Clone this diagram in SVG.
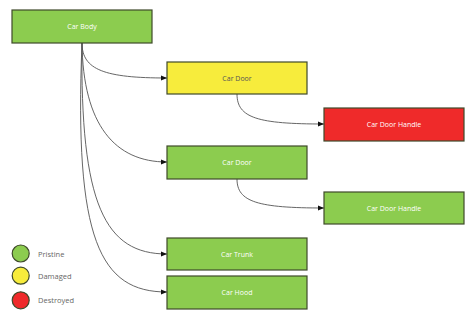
<svg xmlns="http://www.w3.org/2000/svg" width="474" height="322" viewBox="0 0 474 322">
<defs>
<style>
.box{stroke:#3f4a2a;stroke-width:1.2}
.g{fill:#8ccc4f}
.y{fill:#f7ec3c}
.r{fill:#ef2a2a}
.lbl{font-family:"Open Sans","DejaVu Sans",sans-serif;font-size:7px;text-anchor:middle;dominant-baseline:central}
.w{fill:#ffffff}
.d{fill:#555555}
.leg{font-family:"Open Sans","DejaVu Sans",sans-serif;font-size:7.5px;fill:#666666;dominant-baseline:central}
.c{fill:none;stroke:#555555;stroke-width:0.9}
</style>
<marker id="ah" viewBox="0 0 10 10" refX="10" refY="5" markerWidth="6" markerHeight="6" markerUnits="userSpaceOnUse" orient="auto">
<path d="M0,1 L10,5 L0,9 Z" fill="#111111"/>
</marker>
</defs>
<rect width="474" height="322" fill="#ffffff"/>
<g id="connectors">
<path class="c" marker-end="url(#ah)" d="M82,43 C82,70 105,78 167,78"/>
<path class="c" marker-end="url(#ah)" d="M82,43 C83,125 115,162 167,162"/>
<path class="c" marker-end="url(#ah)" d="M82,43 C80,205 105,254 167,254"/>
<path class="c" marker-end="url(#ah)" d="M82,43 C74,240 100,292 167,292"/>
<path class="c" marker-end="url(#ah)" d="M237,94 C237,118 258,124 324,124"/>
<path class="c" marker-end="url(#ah)" d="M237,179 C237,202 258,208 324,208"/>
</g>
<g id="car-body"><rect class="box g" x="12" y="10" width="140" height="33"/><text class="lbl w" x="82" y="26.5">Car Body</text></g>
<g id="car-door-1"><rect class="box y" x="167" y="62" width="140" height="32"/><text class="lbl d" x="237" y="78">Car Door</text></g>
<g id="car-door-handle-1"><rect class="box r" x="324" y="108" width="140" height="33"/><text class="lbl w" x="394" y="124.5">Car Door Handle</text></g>
<g id="car-door-2"><rect class="box g" x="167" y="146" width="140" height="33"/><text class="lbl w" x="237" y="162.5">Car Door</text></g>
<g id="car-door-handle-2"><rect class="box g" x="324" y="192" width="140" height="32"/><text class="lbl w" x="394" y="208">Car Door Handle</text></g>
<g id="car-trunk"><rect class="box g" x="167" y="238" width="140" height="32"/><text class="lbl w" x="237" y="254">Car Trunk</text></g>
<g id="car-hood"><rect class="box g" x="167" y="276" width="140" height="33"/><text class="lbl w" x="237" y="292.5">Car Hood</text></g>
<g id="legend">
<circle class="box g" cx="20.7" cy="253.5" r="8.5"/><text class="leg" x="38" y="253.5">Pristine</text>
<circle class="box y" cx="20.7" cy="275.7" r="8.5"/><text class="leg" x="38" y="275.7">Damaged</text>
<circle class="box r" cx="20.7" cy="300.3" r="8.5"/><text class="leg" x="38" y="300.3">Destroyed</text>
</g>
</svg>
